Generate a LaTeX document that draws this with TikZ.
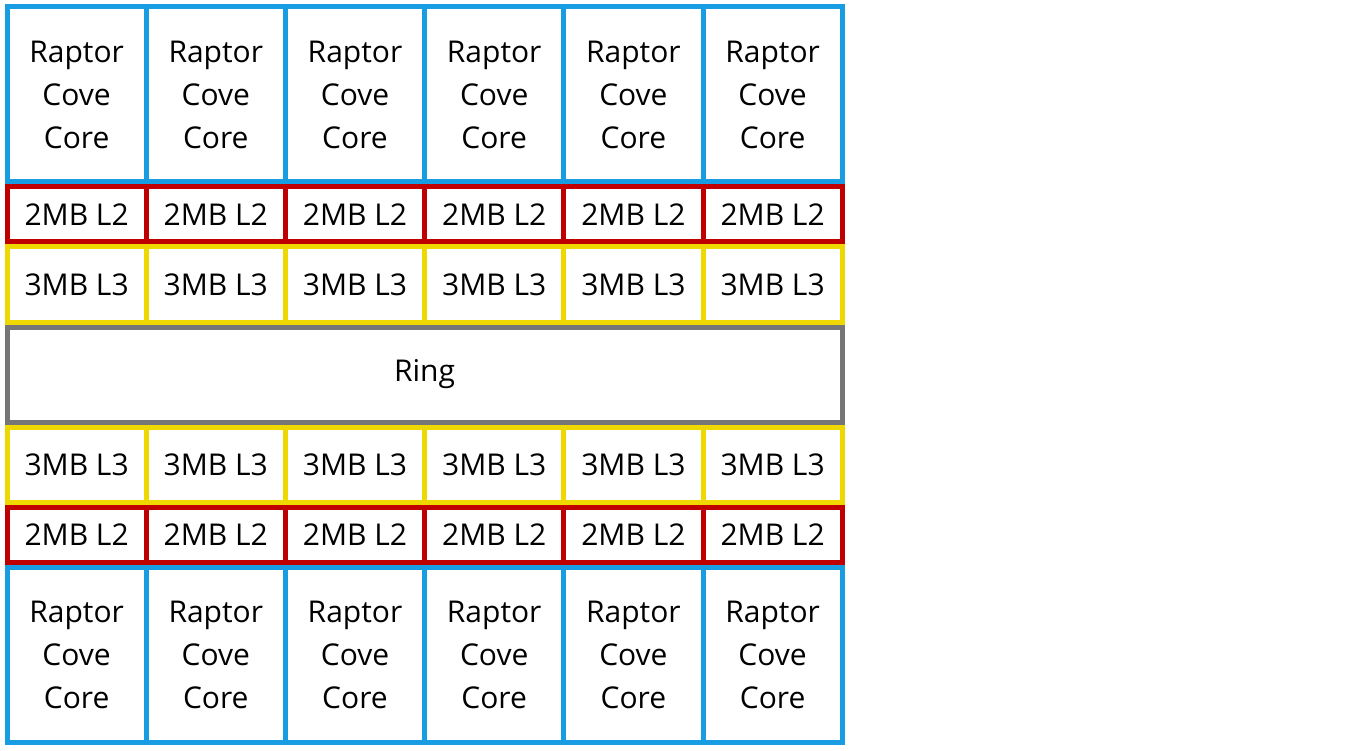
\documentclass[tikz,border=0pt]{standalone}
\usepackage{fontspec}
\setmainfont{Open Sans}
\usetikzlibrary{positioning}
\tikzstyle{cell}=[rectangle,
        draw,
        line width=5pt,
        inner sep=0pt,
        align=center,
        minimum width=139.2pt,
        font=\fontsize{30}{43}\selectfont]
\definecolor{CoreColor}{HTML}{189CE2}
\definecolor{LtwoColor}{HTML}{C00000}
\definecolor{LthreeColor}{HTML}{EED800}
\definecolor{RingColor}{HTML}{767676}

\begin{document}
\begin{tikzpicture}[x=1pt,y=-1pt]
    \useasboundingbox (0,0) rectangle (1351,751);
    \foreach \la in {0,...,5} {
        \node at (7 + 139.2 * \la + 69.6, 94.5) (CT\la) [cell, draw=CoreColor, minimum height=175pt] {Raptor\\Cove\\Core};
        \node at (7 + 139.2 * \la + 69.6, 214.5) (LtwoT\la) [cell, draw=LtwoColor, minimum height=55pt] {2MB L2};
        \node at (7 + 139.2 * \la + 69.6, 284.5) (LthreeT\la) [cell, draw=LthreeColor, minimum height=75pt] {3MB L3};
        \node at (7 + 139.2 * \la + 69.6, 464.5) (LthreeB\la) [cell, draw=LthreeColor, minimum height=75pt] {3MB L3};
        \node at (7 + 139.2 * \la + 69.6, 534.5) (LtwoB\la) [cell, draw=LtwoColor, minimum height=55pt] {2MB L2};
        \node at (7 + 139.2 * \la + 69.6, 654.5) (CB\la) [cell, draw=CoreColor, minimum height=175pt] {Raptor\\Cove\\Core};
    }
    \node at (424.6, 374.5) (ring) [cell, draw=RingColor, minimum width=835.2pt, minimum height=95pt] {Ring};
\end{tikzpicture}
\end{document}
